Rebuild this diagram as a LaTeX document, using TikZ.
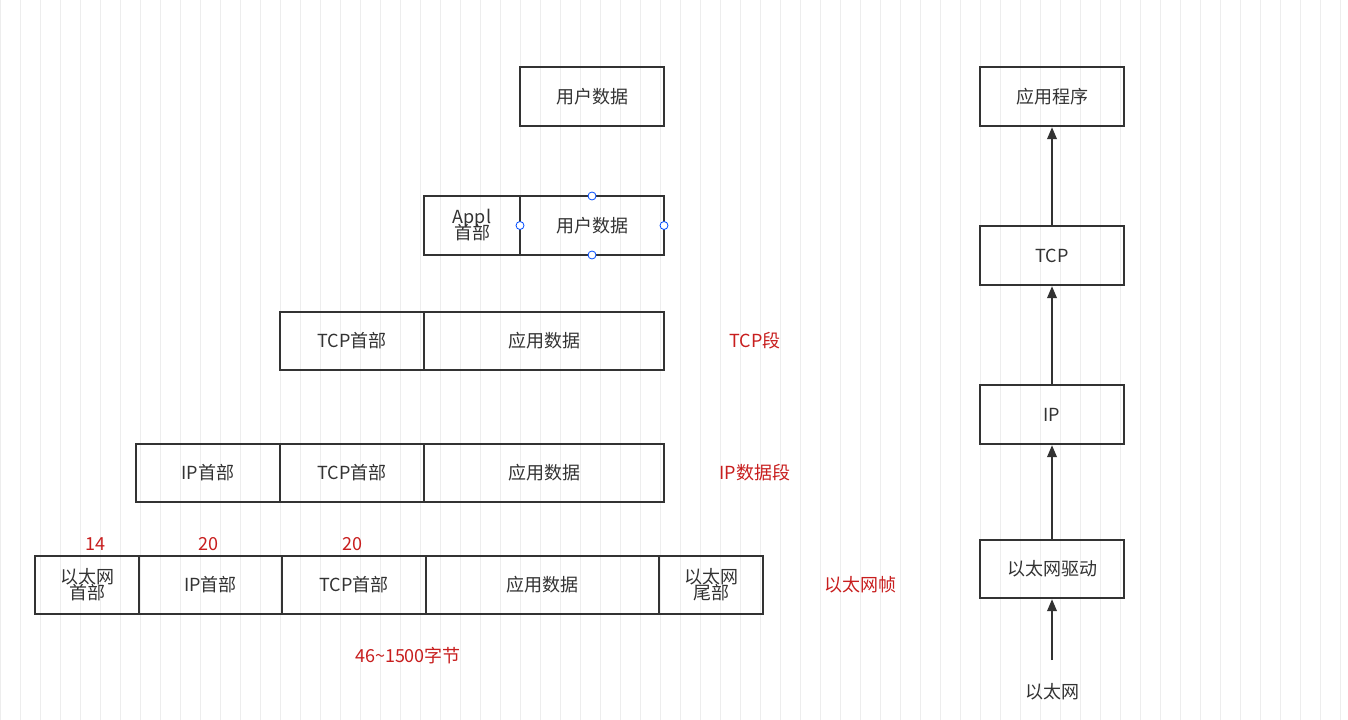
\documentclass[tikz,border=0pt]{standalone}
\usepackage{fontspec}
\setmainfont{Noto Sans CJK SC}
\usetikzlibrary{arrows.meta}
\definecolor{dk}{HTML}{333333}
\definecolor{rd}{HTML}{C81E1E}
\begin{document}
\begin{tikzpicture}[x=0.75pt,y=-0.75pt,
 bx/.style={draw=dk,line width=1.6pt,inner sep=0,font=\fontsize{13.5}{15}\selectfont,text=dk,align=center},
 lb/.style={font=\fontsize{13.5}{15}\selectfont,text=rd},
 ar/.style={draw=dk,line width=1.8pt,-{Triangle[length=9pt,width=7pt]}},
 hd/.style={circle,draw=blue!70!cyan,fill=white,inner sep=0,minimum size=6pt,line width=0.6pt}]
\useasboundingbox (0,0) rectangle (1348,720);
\fill[white] (0,0) rectangle (1348,720);
\draw[black!7,line width=0.5pt] (0,0) grid[step=20] (1348,720);
\newcommand\bxat[5]{\node[bx,minimum width={(#3-#2)*0.75pt},minimum height={(#5-#4)*0.75pt},anchor=north west] (#1) at (#2,#4) {};}
% row 1
\node[bx,minimum width=108pt,minimum height=44.25pt] (u1) at (592,96.5) {用户数据};
% row 2
\node[bx,minimum width=72pt,minimum height=44.25pt] (a2) at (472,225.5) {Appl\\[-3pt]首部};
\node[bx,minimum width=108pt,minimum height=44.25pt] (u2) at (592,225.5) {用户数据};
\node[hd] (h1) at (592,196) {};
\node[hd] (h2) at (520,225.5) {};
\node[hd] (h3) at (664,225.5) {};
\node[hd] (h4) at (592,255) {};
% row 3
\node[bx,minimum width=108pt,minimum height=43.5pt] (t3) at (352,341) {TCP首部};
\node[bx,minimum width=180pt,minimum height=43.5pt] (d3) at (544,341) {应用数据};
\node[lb] (l3) at (755,341) {TCP段};
% row 4
\node[bx,minimum width=108pt,minimum height=43.5pt] (i4) at (208,473) {IP首部};
\node[bx,minimum width=108pt,minimum height=43.5pt] (t4) at (352,473) {TCP首部};
\node[bx,minimum width=180pt,minimum height=43.5pt] (d4) at (544,473) {应用数据};
\node[lb] (l4) at (755,473) {IP数据段};
% row 5
\node[bx,minimum width=78pt,minimum height=43.5pt] (e5) at (87,585) {以太网\\[-3pt]首部};
\node[bx,minimum width=107.25pt,minimum height=43.5pt] (i5) at (210.5,585) {IP首部};
\node[bx,minimum width=108pt,minimum height=43.5pt] (t5) at (354,585) {TCP首部};
\node[bx,minimum width=174.75pt,minimum height=43.5pt] (d5) at (542.5,585) {应用数据};
\node[bx,minimum width=78pt,minimum height=43.5pt] (f5) at (711,585) {以太网\\[-3pt]尾部};
\node[lb] (n1) at (95,544) {14};
\node[lb] (n2) at (208,544) {20};
\node[lb] (n3) at (352,544) {20};
\node[lb] (l5) at (860,585) {以太网帧};
\node[lb] (sz) at (408,656) {46\textasciitilde1500字节};
% right column
\node[bx,minimum width=108pt,minimum height=44.25pt] (r1) at (1052,96.5) {应用程序};
\node[bx,minimum width=108pt,minimum height=44.25pt] (r2) at (1052,255.5) {TCP};
\node[bx,minimum width=108pt,minimum height=44.25pt] (r3) at (1052,414.5) {IP};
\node[bx,minimum width=108pt,minimum height=43.5pt] (r4) at (1052,569) {以太网驱动};
\node[font=\fontsize{13.5}{15}\selectfont,text=dk] (eth) at (1052,692) {以太网};
\coordinate (e0) at (1052,660);
\draw[ar] (e0) -- (r4.south);
\draw[ar] (r4) -- (r3);
\draw[ar] (r3) -- (r2);
\draw[ar] (r2) -- (r1);
\end{tikzpicture}
\end{document}
